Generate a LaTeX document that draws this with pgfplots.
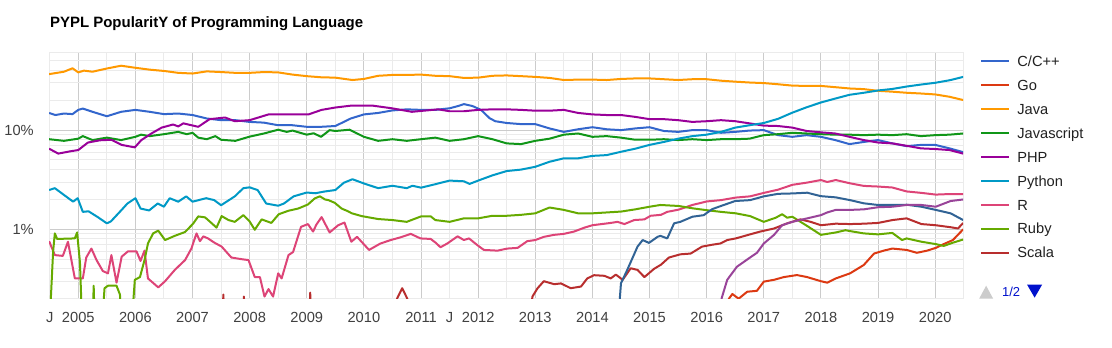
\documentclass[border=0pt]{standalone}
\usepackage{pgfplots}
\pgfplotsset{compat=1.18}
\usepackage{fontspec}
\setmainfont{Liberation Sans}
\definecolor{cC}{HTML}{3366CC}
\definecolor{cGo}{HTML}{DC3912}
\definecolor{cJava}{HTML}{FF9900}
\definecolor{cJS}{HTML}{109618}
\definecolor{cPHP}{HTML}{990099}
\definecolor{cPy}{HTML}{0099C6}
\definecolor{cR}{HTML}{DD4477}
\definecolor{cRuby}{HTML}{66AA00}
\definecolor{cScala}{HTML}{B82E2E}
\definecolor{cSwift}{HTML}{316395}
\definecolor{cTS}{HTML}{994499}
\definecolor{pager}{HTML}{0011CC}
\pgfplotsset{ser/.style={line width=1.5pt, line join=round, mark=none}}
\begin{document}
\begin{tikzpicture}[x=1pt,y=1pt]
\path[fill=white] (0,0) rectangle (834,261);
\begin{axis}[
  at={(36pt,36.75pt)}, anchor=south west,
  width=686.25pt, height=184.5pt, scale only axis,
  xmin=2004.49, xmax=2020.49,
  ymode=log, ymin=0.2, ymax=60,
  xtick={2005,2006,2007,2008,2009,2010,2011,2012,2013,2014,2015,2016,2017,2018,2019,2020},
  xticklabels={2005,2006,2007,2008,2009,2010,2011,2012,2013,2014,2015,2016,2017,2018,2019,2020},
  extra x ticks={2004.5,2011.5},
  extra x tick labels={J,J},
  extra x tick style={grid=none},
  minor xtick={2004.5,2005.5,2006.5,2007.5,2008.5,2009.5,2010.5,2011.5,2012.5,2013.5,2014.5,2015.5,2016.5,2017.5,2018.5,2019.5},
  ytick={1,10}, yticklabels={1\%,10\%},
  minor ytick={0.2,0.3,0.4,0.5,0.6,0.7,0.8,0.9,2,3,4,5,6,7,8,9,20,30,40,50,60},
  grid=both,
  major grid style={draw=black!20, line width=0.75pt},
  minor grid style={draw=black!8, line width=0.75pt},
  axis line style={draw=black!8, line width=0.75pt},
  major tick length=0pt, minor tick length=0pt,
  tick label style={font=\fontsize{11}{13}\selectfont, text=black!75},
  xticklabel style={yshift=-6.6pt},
  yticklabel style={xshift=-8pt},
  legend style={at={(1,1)}, anchor=north west, xshift=12.75pt, yshift=-2pt,
    draw=none, fill=none, inner sep=0pt, row sep=7.56pt, column sep=5.25pt,
    font=\fontsize{11}{13}\selectfont, text=black!87,
    nodes={inner sep=0pt, text height=8pt, text depth=2.4pt, anchor=base west}},
  legend cell align=left,
  legend image code/.code={\draw[#1] (0pt,4pt) -- (21pt,4pt);},
]
\addplot[ser, color=cC] coordinates {(2004.49,14.9) (2004.6,14.2) (2004.75,14.7) (2004.9,14.5) (2005,16.0) (2005.08,16.5) (2005.25,15.3) (2005.5,13.8) (2005.75,15.3) (2006,16.0) (2006.25,15.3) (2006.5,14.5) (2006.75,14.7) (2007,14.2) (2007.25,13.1) (2007.5,12.6) (2007.75,12.6) (2008,12.1) (2008.25,11.9) (2008.5,11.2) (2008.75,11.2) (2009,10.8) (2009.25,10.8) (2009.5,11.0) (2009.77,13.1) (2010,14.4) (2010.25,14.9) (2010.5,15.8) (2010.75,16.2) (2011,16.0) (2011.25,16.0) (2011.5,16.6) (2011.65,17.5) (2011.75,18.3) (2011.9,17.5) (2012.05,16.0) (2012.2,13.2) (2012.3,12.3) (2012.5,11.8) (2012.75,11.5) (2013,11.5) (2013.25,10.4) (2013.5,9.6) (2013.75,10.2) (2014,10.7) (2014.25,10.2) (2014.5,10.0) (2014.75,10.4) (2015,10.7) (2015.25,9.8) (2015.5,9.6) (2015.75,10.0) (2016,10.0) (2016.25,9.4) (2016.5,9.6) (2016.75,9.9) (2017,10.0) (2017.25,8.9) (2017.5,8.56) (2017.75,8.9) (2018,8.56) (2018.25,7.94) (2018.5,7.23) (2018.75,7.6) (2019,7.94) (2019.25,7.35) (2019.5,6.9) (2019.75,7.1) (2020,7.1) (2020.25,6.55) (2020.49,6.0)};
\addlegendentry{C/C++}
\addplot[ser, color=cGo] coordinates {(2016.36,0.1) (2016.39,0.2) (2016.45,0.223) (2016.56,0.2) (2016.71,0.235) (2016.88,0.24) (2017.0,0.297) (2017.18,0.31) (2017.35,0.33) (2017.58,0.346) (2017.76,0.33) (2018.0,0.30) (2018.11,0.29) (2018.26,0.32) (2018.51,0.36) (2018.75,0.437) (2018.93,0.57) (2019.10,0.61) (2019.25,0.64) (2019.50,0.62) (2019.68,0.58) (2019.86,0.61) (2020.01,0.65) (2020.15,0.71) (2020.31,0.78) (2020.49,1.0)};
\addlegendentry{Go}
\addplot[ser, color=cJava] coordinates {(2004.49,36.7) (2004.75,38.8) (2004.9,42) (2005,38.2) (2005.1,39.8) (2005.25,38.8) (2005.5,41.8) (2005.75,44.6) (2006,42.5) (2006.25,40.7) (2006.5,39.5) (2006.75,37.8) (2007,37.2) (2007.25,39.1) (2007.5,38.5) (2007.75,37.8) (2008,37.8) (2008.25,38.5) (2008.5,38.2) (2008.75,36.3) (2009,35) (2009.25,34.1) (2009.5,33.8) (2009.8,32.0) (2010,32.8) (2010.25,35.3) (2010.5,36) (2010.75,36) (2011,36.3) (2011.25,35.3) (2011.5,35) (2011.75,33.6) (2012,33.8) (2012.25,35.3) (2012.5,35.6) (2012.75,35) (2013,34.4) (2013.25,33.6) (2013.5,32) (2013.75,32.3) (2014,32.3) (2014.25,32) (2014.5,32.8) (2014.75,33.2) (2015,33.2) (2015.25,32.6) (2015.5,32) (2015.75,32.6) (2016,32.6) (2016.25,31.5) (2016.5,30.8) (2016.75,30.2) (2017,29.8) (2017.25,29) (2017.5,28.1) (2017.75,27.9) (2018,27.9) (2018.25,27.1) (2018.5,26.3) (2018.75,25.9) (2019,24.9) (2019.25,24.4) (2019.5,23.8) (2019.75,23.4) (2020,22.9) (2020.25,21.7) (2020.49,20.1)};
\addlegendentry{Java}
\addplot[ser, color=cJS] coordinates {(2004.49,8.1) (2004.75,7.8) (2005,8.2) (2005.08,8.7) (2005.25,7.94) (2005.5,8.4) (2005.75,7.94) (2006,8.56) (2006.1,9.0) (2006.25,8.7) (2006.5,9.1) (2006.75,9.6) (2006.9,9.1) (2007,9.4) (2007.1,8.4) (2007.25,8.1) (2007.4,8.7) (2007.5,8.0) (2007.75,7.8) (2008,8.6) (2008.25,9.25) (2008.5,10.1) (2008.65,9.6) (2008.75,9.9) (2009,9.0) (2009.12,9.3) (2009.25,8.56) (2009.4,10.0) (2009.5,9.8) (2009.75,10.1) (2010,8.56) (2010.25,7.8) (2010.5,8.1) (2010.75,7.8) (2011,8.1) (2011.25,8.4) (2011.5,7.8) (2011.75,8.1) (2012,8.7) (2012.25,8.1) (2012.5,7.35) (2012.75,7.23) (2013,7.8) (2013.25,8.2) (2013.5,9.0) (2013.75,9.25) (2014,8.56) (2014.25,8.7) (2014.5,8.4) (2014.75,8.0) (2015,8.0) (2015.25,8.1) (2015.5,7.94) (2015.75,8.1) (2016,7.94) (2016.25,8.1) (2016.5,8.1) (2016.75,8.2) (2017,8.9) (2017.25,9.1) (2017.5,9.4) (2017.75,9.25) (2018,9.1) (2018.25,9.0) (2018.5,9.0) (2018.75,8.9) (2019,9.0) (2019.25,8.9) (2019.5,9.1) (2019.75,8.7) (2020,8.9) (2020.25,9.0) (2020.49,9.25)};
\addlegendentry{Javascript}
\addplot[ser, color=cPHP] coordinates {(2004.49,6.5) (2004.65,5.8) (2004.85,6.1) (2005.0,6.3) (2005.17,7.5) (2005.38,7.9) (2005.58,8.0) (2005.76,7.1) (2005.99,6.7) (2006.1,7.9) (2006.28,9.25) (2006.46,10.6) (2006.66,11.4) (2006.75,10.9) (2006.84,11.7) (2007.1,10.8) (2007.3,12.9) (2007.57,13.4) (2007.74,12.3) (2008.0,12.6) (2008.33,14.4) (2008.56,14.4) (2009.03,14.4) (2009.26,16.0) (2009.5,16.9) (2009.79,17.7) (2010.14,17.7) (2010.49,16.6) (2010.84,15.3) (2011.3,16.2) (2011.5,15.5) (2011.75,15.5) (2012,16.0) (2012.25,16.2) (2012.5,16.2) (2012.75,16.0) (2013,15.7) (2013.25,15.7) (2013.5,16.0) (2013.75,14.9) (2014,14.4) (2014.25,14.2) (2014.5,14.2) (2014.75,13.6) (2015,12.9) (2015.25,12.9) (2015.5,12.6) (2015.75,12.1) (2016,12.3) (2016.25,12.6) (2016.5,12.3) (2016.75,11.7) (2017,11.1) (2017.25,11.0) (2017.5,10.6) (2017.75,9.8) (2018,9.5) (2018.25,9.25) (2018.5,8.56) (2018.75,7.94) (2019,7.5) (2019.25,7.35) (2019.5,6.95) (2019.75,6.55) (2020,6.45) (2020.25,6.3) (2020.49,5.8)};
\addlegendentry{PHP}
\addplot[ser, color=cPy] coordinates {(2004.49,2.49) (2004.59,2.6) (2004.76,2.2) (2004.91,1.9) (2004.99,2.06) (2005.08,1.5) (2005.18,1.52) (2005.34,1.33) (2005.5,1.15) (2005.57,1.2) (2005.75,1.55) (2005.86,1.82) (2006,2.06) (2006.09,1.62) (2006.24,1.55) (2006.39,1.82) (2006.5,1.69) (2006.6,2.06) (2006.75,1.9) (2006.89,2.15) (2007,1.9) (2007.24,2.06) (2007.38,1.97) (2007.5,1.75) (2007.74,2.15) (2007.89,2.6) (2008,2.65) (2008.14,2.49) (2008.29,1.82) (2008.5,1.73) (2008.6,1.82) (2008.77,2.15) (2009,2.35) (2009.15,2.31) (2009.3,2.4) (2009.5,2.49) (2009.65,2.95) (2009.8,3.2) (2010,2.9) (2010.25,2.6) (2010.5,2.75) (2010.75,2.6) (2010.85,2.75) (2011,2.63) (2011.25,2.85) (2011.5,3.1) (2011.75,3.05) (2011.85,2.87) (2012,3.1) (2012.25,3.5) (2012.5,3.87) (2012.75,4.0) (2013,4.27) (2013.25,4.8) (2013.5,5.2) (2013.75,5.2) (2014,5.5) (2014.25,5.6) (2014.5,6.05) (2014.75,6.5) (2015,7.1) (2015.25,7.6) (2015.5,8.2) (2015.75,8.7) (2016,9.0) (2016.25,9.6) (2016.5,10.6) (2016.75,11.2) (2017,11.8) (2017.25,13.0) (2017.5,15.0) (2017.75,17.0) (2018,19.0) (2018.25,20.8) (2018.5,22.7) (2018.75,23.8) (2019,25.1) (2019.25,26.0) (2019.5,27.5) (2019.75,28.8) (2020,30) (2020.25,31.8) (2020.49,34.4)};
\addlegendentry{Python}
\addplot[ser, color=cR] coordinates {(2004.49,0.76) (2004.59,0.55) (2004.73,0.54) (2004.82,0.75) (2004.88,0.49) (2004.94,0.32) (2005.08,0.32) (2005.14,0.52) (2005.23,0.64) (2005.32,0.49) (2005.43,0.38) (2005.52,0.36) (2005.58,0.55) (2005.67,0.29) (2005.76,0.53) (2005.87,0.60) (2006.02,0.60) (2006.09,0.48) (2006.16,0.61) (2006.22,0.32) (2006.40,0.26) (2006.52,0.30) (2006.69,0.39) (2006.87,0.49) (2006.98,0.64) (2007.07,0.91) (2007.13,0.76) (2007.19,0.85) (2007.27,0.81) (2007.39,0.73) (2007.51,0.67) (2007.68,0.52) (2007.86,0.50) (2007.98,0.49) (2008.09,0.33) (2008.18,0.33) (2008.26,0.21) (2008.33,0.25) (2008.41,0.21) (2008.50,0.36) (2008.56,0.32) (2008.68,0.55) (2008.76,0.59) (2008.90,1.06) (2009.02,1.13) (2009.11,0.95) (2009.17,1.12) (2009.26,1.33) (2009.40,0.93) (2009.55,1.1) (2009.66,1.17) (2009.78,0.75) (2009.88,0.84) (2010.09,0.62) (2010.29,0.72) (2010.47,0.78) (2010.64,0.83) (2010.82,0.90) (2010.99,0.81) (2011.17,0.80) (2011.26,0.73) (2011.34,0.66) (2011.46,0.72) (2011.64,0.85) (2011.75,0.78) (2011.84,0.81) (2011.99,0.69) (2012.10,0.62) (2012.34,0.61) (2012.51,0.64) (2012.69,0.65) (2012.86,0.76) (2013.0,0.78) (2013.15,0.84) (2013.33,0.88) (2013.50,0.90) (2013.68,0.95) (2013.86,1.04) (2014.0,1.10) (2014.32,1.16) (2014.44,1.19) (2014.56,1.13) (2014.73,1.24) (2014.91,1.26) (2015.02,1.37) (2015.20,1.40) (2015.31,1.5) (2015.51,1.58) (2015.75,1.76) (2016.0,1.91) (2016.25,1.97) (2016.51,2.09) (2016.76,2.15) (2017.0,2.33) (2017.25,2.51) (2017.50,2.81) (2017.76,2.96) (2018.0,3.14) (2018.11,3.0) (2018.26,3.14) (2018.51,2.91) (2018.75,2.74) (2019.0,2.7) (2019.25,2.64) (2019.50,2.41) (2019.76,2.33) (2020.01,2.24) (2020.27,2.27) (2020.49,2.27)};
\addlegendentry{R}
\addplot[ser, color=cRuby] coordinates {(2004.49,0.1) (2004.52,0.2) (2004.56,0.6) (2004.59,0.91) (2004.63,0.8) (2004.94,0.81) (2004.98,0.93) (2005.03,0.46) (2005.07,0.1) (2005.25,0.1) (2005.27,0.27) (2005.29,0.1) (2005.41,0.1) (2005.46,0.255) (2005.52,0.27) (2005.67,0.27) (2005.73,0.22) (2005.76,0.1) (2005.93,0.1) (2005.99,0.31) (2006.08,0.33) (2006.16,0.49) (2006.22,0.72) (2006.31,0.91) (2006.40,0.97) (2006.52,0.78) (2006.69,0.86) (2006.87,0.94) (2007.01,1.14) (2007.10,1.35) (2007.22,1.32) (2007.33,1.16) (2007.42,1.04) (2007.51,1.36) (2007.63,1.24) (2007.74,1.19) (2007.89,1.39) (2008.0,1.2) (2008.09,0.99) (2008.21,1.26) (2008.38,1.16) (2008.51,1.42) (2008.68,1.54) (2008.85,1.62) (2009.02,1.78) (2009.14,2.05) (2009.23,2.15) (2009.32,2.0) (2009.38,1.97) (2009.49,1.85) (2009.61,1.62) (2009.70,1.54) (2009.79,1.45) (2009.96,1.36) (2010.25,1.27) (2010.5,1.24) (2010.75,1.19) (2011,1.35) (2011.17,1.35) (2011.25,1.24) (2011.5,1.19) (2011.75,1.29) (2012,1.29) (2012.25,1.37) (2012.5,1.37) (2012.75,1.40) (2013,1.45) (2013.25,1.66) (2013.5,1.57) (2013.75,1.45) (2014,1.45) (2014.25,1.48) (2014.5,1.51) (2014.75,1.59) (2015,1.69) (2015.19,1.76) (2015.51,1.72) (2015.75,1.63) (2016.0,1.56) (2016.25,1.50) (2016.51,1.45) (2016.76,1.36) (2017.0,1.19) (2017.21,1.31) (2017.32,1.42) (2017.41,1.31) (2017.50,1.34) (2017.76,1.08) (2018.0,0.88) (2018.26,0.93) (2018.43,0.98) (2018.51,0.96) (2018.75,0.91) (2019.0,0.89) (2019.25,0.92) (2019.42,0.78) (2019.50,0.81) (2019.76,0.75) (2020.01,0.71) (2020.15,0.68) (2020.30,0.73) (2020.49,0.79)};
\addlegendentry{Ruby}
\addplot[ser, color=cScala] coordinates {(2007.52,0.1) (2007.54,0.22) (2007.56,0.1) (2007.88,0.1) (2007.90,0.21) (2007.92,0.1) (2009.04,0.1) (2009.06,0.23) (2009.08,0.1) (2010.52,0.1) (2010.58,0.2) (2010.67,0.255) (2010.76,0.2) (2010.82,0.1) (2012.89,0.1) (2012.95,0.21) (2013.04,0.255) (2013.15,0.30) (2013.33,0.28) (2013.45,0.285) (2013.62,0.255) (2013.80,0.265) (2013.91,0.32) (2014.03,0.345) (2014.21,0.34) (2014.32,0.32) (2014.41,0.35) (2014.53,0.31) (2014.67,0.405) (2014.79,0.39) (2014.91,0.33) (2015.08,0.40) (2015.20,0.44) (2015.34,0.52) (2015.54,0.56) (2015.72,0.57) (2015.92,0.67) (2016.10,0.70) (2016.24,0.72) (2016.36,0.78) (2016.51,0.81) (2016.76,0.89) (2016.94,0.95) (2017.18,1.02) (2017.41,1.15) (2017.64,1.26) (2017.82,1.19) (2018.0,1.10) (2018.26,1.14) (2018.51,1.13) (2018.75,1.14) (2019.0,1.16) (2019.25,1.24) (2019.50,1.29) (2019.76,1.13) (2020.01,1.10) (2020.27,1.05) (2020.40,1.02) (2020.49,1.16)};
\addlegendentry{Scala}
\addplot[ser, color=cSwift, forget plot] coordinates {(2014.44,0.1) (2014.50,0.286) (2014.61,0.39) (2014.79,0.67) (2014.88,0.78) (2014.99,0.73) (2015.14,0.84) (2015.19,0.86) (2015.31,0.81) (2015.43,1.15) (2015.54,1.19) (2015.75,1.34) (2015.95,1.39) (2016.0,1.46) (2016.1,1.60) (2016.25,1.72) (2016.5,1.93) (2016.76,1.97) (2017.0,2.15) (2017.25,2.28) (2017.50,2.30) (2017.76,2.34) (2018.0,2.16) (2018.26,2.10) (2018.51,1.97) (2018.75,1.83) (2019.0,1.76) (2019.25,1.76) (2019.50,1.77) (2019.76,1.69) (2020.01,1.57) (2020.27,1.45) (2020.49,1.24)};
\addplot[ser, color=cTS, forget plot] coordinates {(2016.25,0.1) (2016.26,0.2) (2016.36,0.31) (2016.53,0.42) (2016.76,0.52) (2016.88,0.58) (2017.0,0.72) (2017.18,0.88) (2017.32,1.10) (2017.50,1.19) (2017.76,1.29) (2018.0,1.39) (2018.11,1.48) (2018.26,1.57) (2018.51,1.57) (2018.75,1.59) (2019.0,1.67) (2019.25,1.69) (2019.50,1.76) (2019.76,1.76) (2020.01,1.69) (2020.27,1.93) (2020.49,2.0)};
\end{axis}
\node[anchor=base west, inner sep=0pt, font=\bfseries\fontsize{11.25}{13}\selectfont] at (36.5,240.5) {PYPL PopularitY of Programming Language};
\fill[black!20] (734.25,36.75) -- (744.75,36.75) -- (739.5,46.5) -- cycle;
\node[inner sep=0pt, text=pager, font=\fontsize{9.75}{11}\selectfont] at (758.25,42) {1/2};
\fill[pager] (770.25,47.25) -- (781.5,47.25) -- (775.9,37.5) -- cycle;
\end{tikzpicture}
\end{document}
